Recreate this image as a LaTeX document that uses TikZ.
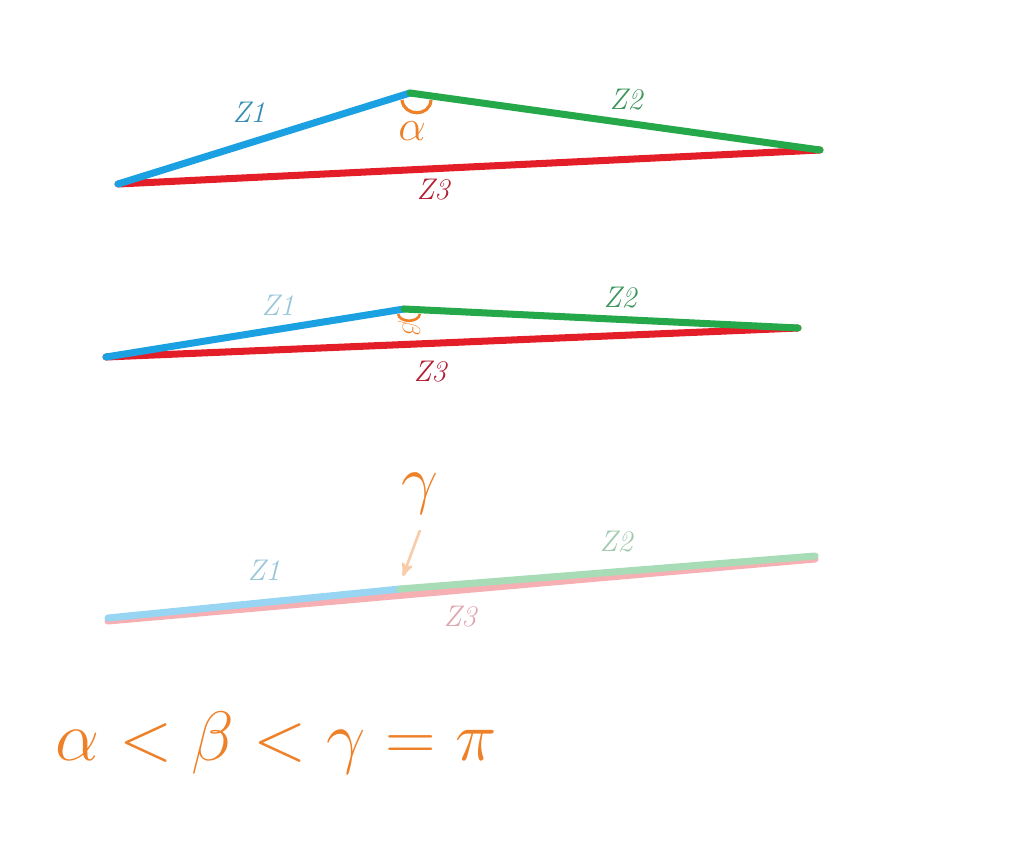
\documentclass[tikz,border=0pt]{standalone}
\usepackage{tikz}
\usepackage{xcolor}
\usetikzlibrary{arrows,calc}

\definecolor{zblue}{RGB}{27,161,226}
\definecolor{zgreen}{RGB}{36,168,74}
\definecolor{zred}{RGB}{228,30,40}
\definecolor{zorange}{RGB}{238,128,40}
\definecolor{lblue}{RGB}{52,140,180}
\definecolor{lgreen}{RGB}{62,150,92}
\definecolor{lred}{RGB}{178,30,50}

\begin{document}
\begin{tikzpicture} [
       x=0.02cm, y=-0.02cm,
       side/.style     = { draw, line width=4pt, line cap=round },
       label/.style    = { font=\fontsize{17}{19}\selectfont\itshape },
       angle/.style    = { text=zorange, font=\fontsize{24}{26}\selectfont },
       ]
       \useasboundingbox (0,0) rectangle (1024,842);
       % first triangle
       \coordinate (a1) at (118,184);
       \coordinate (b1) at (410,93);
       \coordinate (c1) at (820,150);
       \path[side, zred] (a1) -- (c1);
       \path[side, zblue] (a1) -- (b1);
       \path[side, zgreen] (b1) -- (c1);
       \node (z11) [label, lblue] at (249,112) {Z1};
       \node (z12) [label, lgreen] at (626,100) {Z2};
       \node (z13) [label, lred] at (433,190) {Z3};
       \draw[zorange, line width=1.8pt] (402,100) .. controls (404,117) and (430,117) .. (431,100);
       \node (alpha) [angle] at (412,131) {$\alpha$};
       % second triangle
       \coordinate (a2) at (106,357);
       \coordinate (b2) at (404,309);
       \coordinate (c2) at (798,328);
       \path[side, zred] (a2) -- (c2);
       \path[side, zblue] (a2) -- (b2);
       \path[side, zgreen] (b2) -- (c2);
       \node (z21) [label, lblue!50] at (278,305) {Z1};
       \node (z22) [label, lgreen] at (620,298) {Z2};
       \node (z23) [label, lred] at (430,372) {Z3};
       \draw[zorange, line width=1.5pt] (398,314) .. controls (400,323) and (418,323) .. (420,314);
       \node (beta) [angle, rotate=-90, font=\fontsize{14}{16}\selectfont] at (409,328) {$\beta$};
       % flat triangle
       \coordinate (a3) at (108,618);
       \coordinate (b3) at (400,589);
       \coordinate (c3) at (815,556);
       \path[side, zred!35] ($(a3)+(0,3)$) -- ($(c3)+(0,3)$);
       \path[side, zblue!45] (a3) -- (b3);
       \path[side, zgreen!40] (b3) -- (c3);
       \node (z31) [label, lblue!50] at (264,570) {Z1};
       \node (z32) [label, lgreen!50] at (616,542) {Z2};
       \node (z33) [label, lred!40] at (460,617) {Z3};
       \node (gamma) [angle, scale=1.5] at (420,494) {$\gamma$};
       \coordinate (tip) at (403,576);
       \draw[zorange!40, line width=1.5pt, ->, >=stealth'] (420,530) -- (tip);
       % relation
       \node (rel) [angle, scale=1.6, anchor=west] at (46,743)
               {$\alpha < \beta < \gamma = \pi$};
\end{tikzpicture}
\end{document}
